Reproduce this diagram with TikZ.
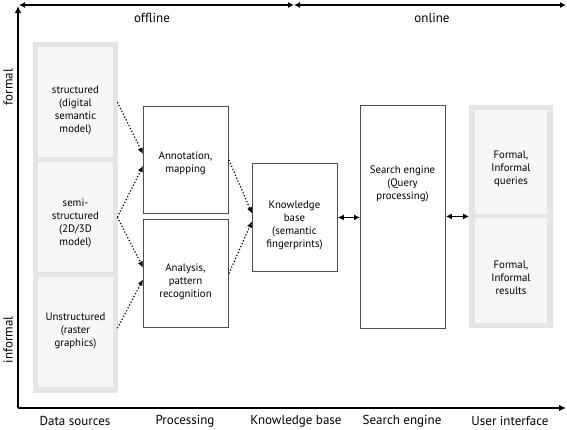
\documentclass[tikz,border=0pt]{standalone}
\usepackage{fontspec}
\setmainfont{PT Sans}
\usetikzlibrary{arrows.meta,calc}
\definecolor{colout}{HTML}{E5E5E5}
\definecolor{colin}{HTML}{F7F7F7}
\definecolor{boxline}{HTML}{4D4D4D}
\begin{document}
\begin{tikzpicture}[x=1pt,y=-1pt,
  txt/.style={font=\fontsize{10.8}{13}\selectfont,align=center,inner sep=0pt},
  colbg/.style={fill=colout,draw=none,anchor=north west,inner sep=0pt},
  srcbox/.style={fill=colin,draw=none,anchor=north west,inner sep=0pt,minimum width=75pt},
  procbox/.style={draw=boxline,line width=0.9pt,fill=white,anchor=north west,inner sep=0pt,minimum width=85pt},
  axis/.style={line width=1.2pt,-{Latex[length=7pt,width=6.5pt]}},
  dotarrow/.style={dotted,line width=1.2pt,-{Latex[length=6pt,width=5.5pt]}},
  dbl/.style={line width=1.2pt,{Latex[length=6pt,width=6pt]}-{Latex[length=6pt,width=6pt]}},
  lab/.style={font=\fontsize{13}{15}\selectfont},
]
\useasboundingbox (0,0) rectangle (567,429);

% axes
\coordinate (o) at (18,408);
\coordinate (ytop) at (18,6);
\coordinate (xend) at (566,408);
\coordinate (tl) at (19,5);
\coordinate (tm) at (294,5);
\coordinate (tr) at (566,5);
\draw[axis] (o) -- (ytop);
\draw[axis] (o) -- (xend);
\draw[dbl] (tl) -- (tm);
\draw[dbl] (tm) -- (tr);

\node[lab] (offline) at (152,18) {offline};
\node[lab] (online) at (432,18) {online};
\node[lab,rotate=90] (formal) at (8,87) {formal};
\node[lab,rotate=90] (informal) at (8,340) {informal};

\node[lab] (l1) at (75,421) {Data sources};
\node[lab] (l2) at (185,421) {Processing};
\node[lab] (l3) at (296,421) {Knowledge base};
\node[lab] (l4) at (402,421) {Search engine};
\node[lab] (l5) at (510,421) {User interface};

% data sources column
\node[colbg,minimum width=85pt,minimum height=351pt] (dcol) at (33,42) {};
\node[srcbox,minimum height=110pt] (s1) at (38,47) {};
\node[srcbox,minimum height=110pt] (s2) at (38,162) {};
\node[srcbox,minimum height=110pt] (s3) at (38,277) {};
\node[txt] (s1t) at (75.5,110) {structured\\(digital\\semantic\\model)};
\node[txt] (s2t) at (75.5,223) {semi-\\structured\\(2D/3D\\model)};
\node[txt] (s3t) at (75.5,331) {Unstructured\\(raster\\graphics)};

% processing
\node[procbox,minimum height=107pt] (ann) at (143,106) {};
\node[procbox,minimum height=108pt] (ana) at (143,219) {};
\node[txt] (annt) at (185.5,163.5) {Annotation,\\mapping};
\node[txt] (anat) at (185.5,282) {Analysis,\\pattern\\recognition};

% knowledge base
\node[procbox,minimum height=108pt] (kb) at (252,163) {};
\node[txt] (kbt) at (294.5,225) {Knowledge\\base\\(semantic\\fingerprints)};

% search engine
\node[procbox,minimum height=223pt] (se) at (360,105) {};
\node[txt] (setext) at (402.5,184) {Search engine\\(Query\\processing)};

% user interface column
\node[colbg,minimum width=84pt,minimum height=223pt] (ucol) at (469,105) {};
\node[fill=colin,anchor=north west,inner sep=0pt,minimum width=72pt,minimum height=104pt] (q) at (475,110) {};
\node[fill=colin,anchor=north west,inner sep=0pt,minimum width=72pt,minimum height=105pt] (r) at (475,218) {};
\node[txt] (qt) at (511,169) {Formal,\\Informal\\queries};
\node[txt] (rt) at (511,278) {Formal,\\Informal\\results};

% dotted arrows
\draw[dotarrow] ([xshift=4pt]s1.east) -- ([yshift=6pt]ann.west);
\draw[dotarrow] ([xshift=4pt]s2.east) -- ([yshift=-6pt]ann.west);
\draw[dotarrow] ([xshift=4pt]s2.east) -- ([yshift=6pt]ana.west);
\draw[dotarrow] ([xshift=4pt,yshift=4pt]s3.east) -- ([yshift=-6pt]ana.west);
\draw[dotarrow] (ann.east) -- ([yshift=4pt]kb.west);
\draw[dotarrow] (ana.east) -- ([yshift=-4pt]kb.west);

% double arrows
\draw[dbl] (kb.east) -- (kb.east -| se.west);
\draw[dbl] ([yshift=-2pt]q.south -| se.east) -- ([yshift=-2pt]q.south -| ucol.west);
\end{tikzpicture}
\end{document}
